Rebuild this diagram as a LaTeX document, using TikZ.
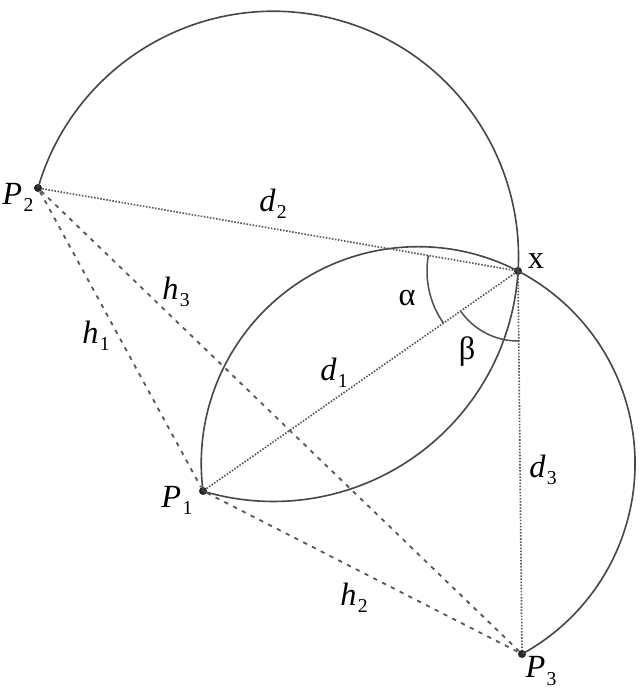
\documentclass[tikz,border=0pt]{standalone}
\usepackage{fontspec}
\setmainfont{Liberation Serif}
\usetikzlibrary{positioning}

\newcommand{\ptlabel}[2]{\textit{#1}\kern1pt\raisebox{-0.22em}{\fontsize{14}{14}\selectfont #2}}

\tikzset{
  vertex/.style={circle, fill=black!85, inner sep=0pt, minimum size=0.2cm},
  circarc/.style={draw=black!72, line width=1.15pt},
  distline/.style={draw=black!65, line width=1.2pt, dash pattern=on 1.1pt off 1.1pt},
  heightline/.style={draw=black!65, line width=1.3pt, dash pattern=on 3pt off 4pt},
  anglearc/.style={draw=black!68, line width=1.1pt}
}

\begin{document}
\begin{tikzpicture}[x=0.025cm, y=-0.025cm, font=\fontsize{23}{26}\selectfont]

\useasboundingbox (0,0) rectangle (640,691);

% the four points
\node[vertex] (P1) at (203,491) {};
\node[vertex] (P2) at (38,188) {};
\node[vertex] (P3) at (522,654) {};
\node[vertex] (X) at (518,271) {};

% the two circles, only partly drawn
\draw[circarc] (P2.center) arc[start angle=196.2, end angle=466.7, radius=245.1];
\draw[circarc] (P1.center) arc[start angle=172.74, end angle=421.4, radius=216.9];

% distances to x
\draw[distline] (P2) -- (X);
\draw[distline] (P1) -- (X);
\draw[distline] (X) -- (P3);

% heights
\draw[heightline] (P2) -- (P1);
\draw[heightline] (P2) -- (P3);
\draw[heightline] (P1) -- (P3);

% angles at x
\draw[anglearc] ([shift={(189.81:91)}]X.center) arc[start angle=189.81, end angle=145.07, radius=91];
\draw[anglearc] ([shift={(145.07:70)}]X.center) arc[start angle=145.07, end angle=89.4, radius=70];

\node (lblP1) at (177,500) {\ptlabel{P}{1}};
\node (lblP2) at (18,197) {\ptlabel{P}{2}};
\node (lblP3) at (541,671) {\ptlabel{P}{3}};
\node (lblX) at (536,261) {x};

\node (lblD1) at (334,373) {\ptlabel{d}{1}};
\node (lblD2) at (273,204) {\ptlabel{d}{2}};
\node (lblD3) at (543,470) {\ptlabel{d}{3}};

\node (lblH1) at (96,336) {\ptlabel{h}{1}};
\node (lblH2) at (354,598) {\ptlabel{h}{2}};
\node (lblH3) at (176,292) {\ptlabel{h}{3}};

\node (lblAlpha) at (407,298) {α};
\node (lblBeta) at (467,352) {β};

\end{tikzpicture}
\end{document}
